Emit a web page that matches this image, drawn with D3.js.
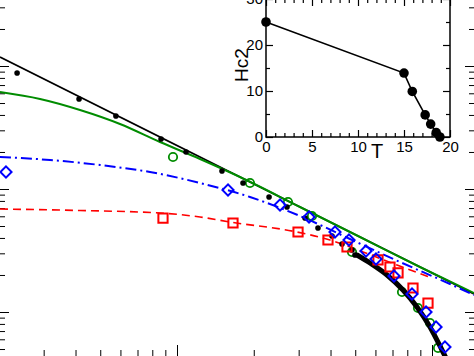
<!DOCTYPE html>
<html><head><meta charset="utf-8">
<script src="https://cdn.jsdelivr.net/npm/d3@7/dist/d3.min.js"></script>
<style>html,body{margin:0;padding:0;background:#fff;overflow:hidden}svg{display:block}</style>
</head><body><svg id="c" width="474" height="356"></svg>
<script>
// ---- main plot data (log-log, arbitrary units) ----
const blackLineX = [0.2022, 14.61];
const blackLineY = [1.184, 0.01401];

const greenLineX = [0.2022, 0.2903, 0.4165, 0.5976, 0.8576, 1.231, 1.766, 3.036, 5.220, 8.971, 14.61];
const greenLineY = [0.6144, 0.5393, 0.4387, 0.3377, 0.2410, 0.1754, 0.1252, 0.0714, 0.04073, 0.02322, 0.01427];

const blueLineX = [0.2022, 0.3177, 0.499, 0.7837, 1.231, 1.933, 3.036, 4.768, 7.489, 11.77, 14.61];
const blueLineY = [0.1820, 0.1721, 0.1567, 0.1374, 0.1119, 0.0861, 0.06033, 0.03923, 0.0255, 0.01689, 0.01374];

const redLineX = [0.2022, 0.4165, 0.8576, 1.231, 1.614, 2.955, 3.981, 5.363, 7.291, 9.732];
const redLineY = [0.06877, 0.06686, 0.0638, 0.05922, 0.05391, 0.04471, 0.03849, 0.03075, 0.02411, 0.01926];

const thickX = [5.080, 5.713, 6.660, 7.696, 8.733, 9.822, 10.94, 11.45];
const thickY = [0.02906, 0.02503, 0.01999, 0.0151, 0.01098, 0.00755, 0.00491, 0.00407];

const blackDotsX = [0.236, 0.413, 0.576, 0.866, 1.085, 1.501, 1.815, 2.296, 2.700, 3.177, 3.572, 4.054, 4.437, 4.856, 4.989];
const blackDotsY = [0.877, 0.539, 0.392, 0.255, 0.200, 0.140, 0.112, 0.0861, 0.0714, 0.0581, 0.0482, 0.0415, 0.0357, 0.0319, 0.0291];

const greenCirclesX = [0.9645, 1.933, 2.724, 3.383, 4.856, 7.628, 8.812, 9.822, 10.56];
const greenCirclesY = [0.1820, 0.1119, 0.07838, 0.06033, 0.03075, 0.01454, 0.01078, 0.00814, 0.0051];

const redSquaresX = [0.8812, 1.658, 2.983, 3.909, 4.642, 6.141, 6.843, 7.358, 8.423, 9.645];
const redSquaresY = [0.05809, 0.05292, 0.04471, 0.03849, 0.03376, 0.02648, 0.02322, 0.02076, 0.01567, 0.01183];

const blueDiamondsX = [0.2135, 1.585, 2.535, 3.294, 4.165, 4.726, 5.510, 6.031, 7.096, 8.348, 9.474, 10.37, 11.24];
const blueDiamondsY = [0.1374, 0.09815, 0.07412, 0.05922, 0.04471, 0.03849, 0.03133, 0.02697, 0.01962, 0.01401, 0.01, 0.00755, 0.005193];

const xMajorTicks = [1, 10];
const xMinorTicks = [0.3, 0.4, 0.5, 0.6, 0.7, 0.8, 0.9, 2, 3, 4, 5, 6, 7, 8, 9];
const yMajorTicks = [1, 0.1, 0.01];
const yMinorTicks = [3, 2, 0.9, 0.8, 0.7, 0.6, 0.5, 0.4, 0.3, 0.2,
  0.09, 0.08, 0.07, 0.06, 0.05, 0.04, 0.03, 0.02, 0.009, 0.008, 0.007, 0.006, 0.005, 0.004];

// ---- inset data ----
const insetT = [0, 15, 15.9, 17.3, 17.9, 18.5, 18.9];
const insetHc2 = [25, 13.9, 9.9, 4.8, 2.8, 0.95, 0];
const insetXTicks = [0, 5, 10, 15, 20];
const insetXMinor = [1,2,3,4,6,7,8,9,11,12,13,14,16,17,18,19];
const insetYTicks = [0, 10, 20, 30];
const insetYMinor = [5, 15, 25];

const W = 474, H = 356;
const svg = d3.select("#c");
const x = d3.scaleLog().domain([1, 10]).range([177, 432]);
const y = d3.scaleLog().domain([1, 0.01]).range([66, 312]);

const zip = (a, b) => a.map((v, i) => [v, b[i]]);
const line = d3.line().x(d => x(d[0])).y(d => y(d[1]));
const smooth = d3.line().x(d => x(d[0])).y(d => y(d[1])).curve(d3.curveMonotoneX);

const GREEN = "#008c00", BLUE = "#0000ff", RED = "#ff0000";

// axes ticks (frame is just outside the visible area)
function noDomain(g){ g.select(".domain").remove(); g.selectAll("text").remove(); g.selectAll("line").attr("stroke","#000").attr("stroke-width",1); }
svg.append("g").attr("transform","translate(0,0)").call(d3.axisRight(y).tickValues(yMajorTicks).tickSize(9).tickFormat("")).call(noDomain);
svg.append("g").attr("transform","translate(0,0)").call(d3.axisRight(y).tickValues(yMinorTicks).tickSize(5).tickFormat("")).call(noDomain);
svg.append("g").attr("transform",`translate(${W},0)`).call(d3.axisLeft(y).tickValues(yMajorTicks).tickSize(9).tickFormat("")).call(noDomain);
svg.append("g").attr("transform",`translate(${W},0)`).call(d3.axisLeft(y).tickValues(yMinorTicks).tickSize(5).tickFormat("")).call(noDomain);
svg.append("g").attr("transform",`translate(0,${H})`).call(d3.axisTop(x).tickValues(xMajorTicks).tickSize(11).tickFormat("")).call(noDomain);
svg.append("g").attr("transform",`translate(0,${H})`).call(d3.axisTop(x).tickValues(xMinorTicks).tickSize(6).tickFormat("")).call(noDomain);

// lines
svg.append("path").attr("d", line(zip(blackLineX, blackLineY))).attr("fill","none").attr("stroke","#000").attr("stroke-width",1.8);
svg.append("path").attr("d", smooth(zip(greenLineX, greenLineY))).attr("fill","none").attr("stroke",GREEN).attr("stroke-width",2);
svg.append("path").attr("d", smooth(zip(blueLineX, blueLineY))).attr("fill","none").attr("stroke",BLUE).attr("stroke-width",2).attr("stroke-dasharray","11,4,2,4");
svg.append("path").attr("d", smooth(zip(redLineX, redLineY))).attr("fill","none").attr("stroke",RED).attr("stroke-width",1.6).attr("stroke-dasharray","8,5");

// green circles
svg.append("g").selectAll("circle").data(zip(greenCirclesX, greenCirclesY)).join("circle")
  .attr("cx", d => x(d[0])).attr("cy", d => y(d[1])).attr("r", 4.2)
  .attr("fill","none").attr("stroke",GREEN).attr("stroke-width",1.8);

// thick black curve
svg.append("path").attr("d", smooth(zip(thickX, thickY))).attr("fill","none").attr("stroke","#000").attr("stroke-width",5).attr("stroke-linecap","round");

// black dots
svg.append("g").selectAll("circle").data(zip(blackDotsX, blackDotsY)).join("circle")
  .attr("cx", d => x(d[0])).attr("cy", d => y(d[1])).attr("r", 2.8).attr("fill","#000");

// red squares
const sq = d3.symbol().type(d3.symbolSquare).size(85);
svg.append("g").selectAll("path").data(zip(redSquaresX, redSquaresY)).join("path")
  .attr("d", sq).attr("transform", d => `translate(${x(d[0])},${y(d[1])})`)
  .attr("fill","none").attr("stroke",RED).attr("stroke-width",2);

// blue diamonds
const dm = d3.symbol().type(d3.symbolSquare).size(62);
svg.append("g").selectAll("path").data(zip(blueDiamondsX, blueDiamondsY)).join("path")
  .attr("d", dm).attr("transform", d => `translate(${x(d[0])},${y(d[1])}) rotate(45)`)
  .attr("fill","none").attr("stroke",BLUE).attr("stroke-width",2);

// ---- inset ----
const xi = d3.scaleLinear().domain([0, 20]).range([266, 450]);
const yi = d3.scaleLinear().domain([0, 30]).range([137, -1]);
const ins = svg.append("g").attr("font-family","'Liberation Sans', Arial, Helvetica, sans-serif");
ins.append("rect").attr("x",266).attr("y",-1).attr("width",184).attr("height",138).attr("fill","#fff");

function tk(g, lbl){ g.select(".domain").remove(); g.selectAll("line").attr("stroke","#000").attr("stroke-width",1.2);
  if(!lbl) g.selectAll("text").remove(); else g.selectAll("text").attr("font-size",15).attr("fill","#000").attr("font-family","'Liberation Sans', Arial, Helvetica, sans-serif"); }
ins.append("g").attr("transform","translate(0,137)").call(d3.axisBottom(xi).tickValues(insetXTicks).tickSize(-7).tickPadding(4).tickFormat(d3.format("d"))).call(g=>tk(g,true));
ins.append("g").attr("transform","translate(0,137)").call(d3.axisBottom(xi).tickValues(insetXMinor).tickSize(-4).tickFormat("")).call(g=>tk(g,false));
ins.append("g").attr("transform","translate(0,-1)").call(d3.axisTop(xi).tickValues(insetXTicks).tickSize(-7).tickFormat("")).call(g=>tk(g,false));
ins.append("g").attr("transform","translate(0,-1)").call(d3.axisTop(xi).tickValues(insetXMinor).tickSize(-4).tickFormat("")).call(g=>tk(g,false));
ins.append("g").attr("transform","translate(266,0)").call(d3.axisLeft(yi).tickValues(insetYTicks).tickSize(-7).tickPadding(3).tickFormat(d3.format("d"))).call(g=>tk(g,true));
ins.append("g").attr("transform","translate(266,0)").call(d3.axisLeft(yi).tickValues(insetYMinor).tickSize(-4).tickFormat("")).call(g=>tk(g,false));
ins.append("g").attr("transform","translate(450,0)").call(d3.axisRight(yi).tickValues(insetYTicks).tickSize(-7).tickFormat("")).call(g=>tk(g,false));
ins.append("g").attr("transform","translate(450,0)").call(d3.axisRight(yi).tickValues(insetYMinor).tickSize(-4).tickFormat("")).call(g=>tk(g,false));
ins.append("rect").attr("x",266).attr("y",-1).attr("width",184).attr("height",138).attr("fill","none").attr("stroke","#000").attr("stroke-width",1.5);

const li = d3.line().x(d => xi(d[0])).y(d => yi(d[1]));
ins.append("path").attr("d", li(zip(insetT, insetHc2))).attr("fill","none").attr("stroke","#000").attr("stroke-width",1.6);
ins.append("g").selectAll("circle").data(zip(insetT, insetHc2)).join("circle")
  .attr("cx", d => xi(d[0])).attr("cy", d => yi(d[1])).attr("r", 4.8).attr("fill","#000");

ins.append("text").attr("transform","translate(248,65) rotate(-90)").attr("text-anchor","middle")
  .attr("font-size",19).text("Hc2");
ins.append("text").attr("x",377).attr("y",158).attr("text-anchor","middle").attr("font-size",20).text("T");
</script>
</body></html>
